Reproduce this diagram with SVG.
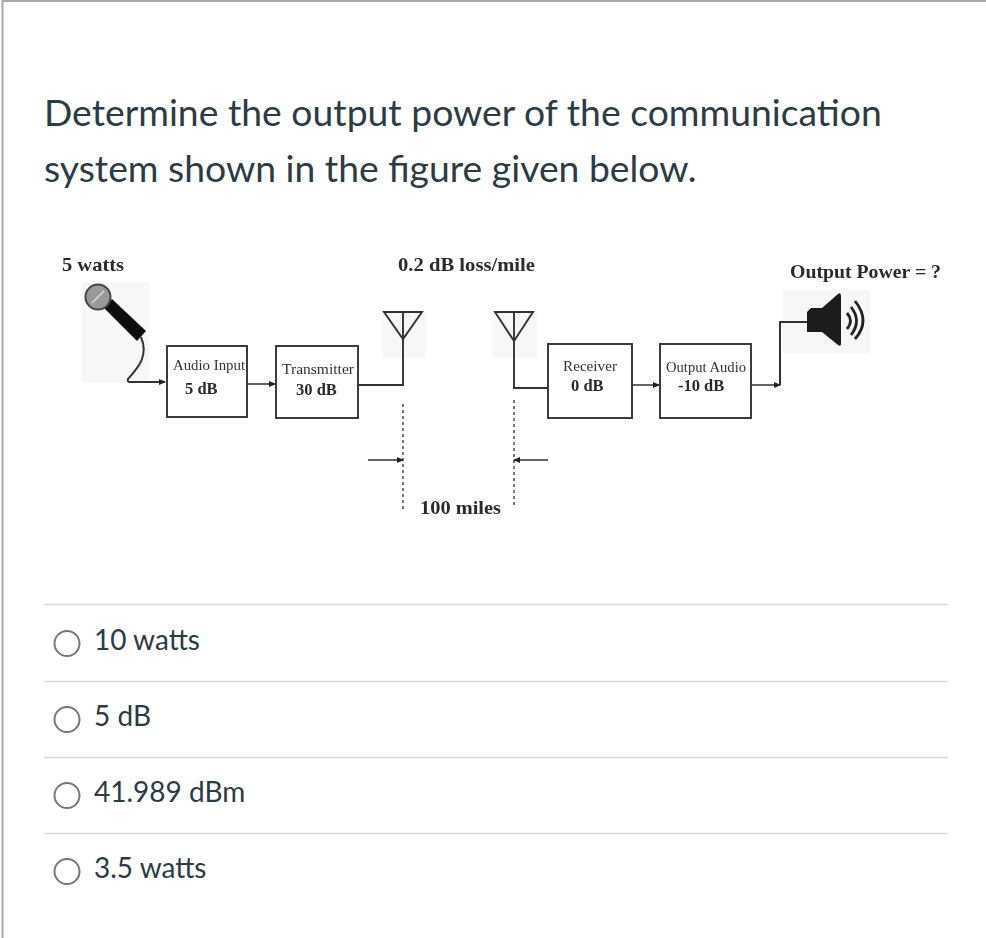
<svg xmlns="http://www.w3.org/2000/svg" width="986" height="938" viewBox="0 0 986 938">
<style>
.h{font:37.3px Lato,"Liberation Sans",sans-serif;fill:#2d3b45}
.o{font:28px Lato,"Liberation Sans",sans-serif;fill:#2d3b45}
.b{font:bold 19px "Liberation Serif",serif;fill:#2a2a2a}
.s{font:bold 16.5px "Liberation Serif",serif;fill:#2a2a2a}
.m{font:15px "Liberation Serif",serif;fill:#333}
.box{fill:#fff;stroke:#333;stroke-width:1.9}
.w{fill:none;stroke:#333;stroke-width:1.9}
.t{fill:none;stroke:#333;stroke-width:1.5}
.c{fill:none;stroke:#333;stroke-width:2}
.d{fill:none;stroke:#555;stroke-width:1.6;stroke-dasharray:3 3}
.bg{fill:#f7f7f7}
.r{fill:#fff;stroke:#777;stroke-width:2}
.l{stroke:#d9d9d9;stroke-width:1.5}
</style>
<defs>
<marker id="a" markerWidth="7" markerHeight="6" refX="6" refY="3" orient="auto" markerUnits="userSpaceOnUse"><path d="M0 0L7 3L0 6Z" fill="#222"/></marker>
<filter id="soft" x="-5%" y="-5%" width="110%" height="110%"><feGaussianBlur stdDeviation="0.7"/></filter>
</defs>
<rect width="986" height="938" fill="#fff"/>
<path d="M2.500 938V1H986" fill="none" stroke="#aaa" stroke-width="2"/>
<g id="question">
<text class="h" x="44" y="126">Determine the output power of the communication</text>
<text class="h" x="44" y="182">system shown in the figure given below.</text>
</g>
<g id="figure" filter="url(#soft)">
<rect class="bg" x="82" y="282" width="67" height="101"/>
<rect class="bg" x="783" y="290" width="87" height="63"/>
<rect class="bg" x="382" y="312" width="44" height="46"/>
<rect class="bg" x="492" y="312" width="45" height="46"/>
<g id="connectors">
<path class="c" d="M141 337C149 356 138 368 128 379Q127 382 130 382H165" marker-end="url(#a)"/>
<path class="t" d="M247 384H275" marker-end="url(#a)"/>
<path class="w" d="M358 385H403V339"/>
<path class="w" d="M548 388H514V341"/>
<path class="t" d="M632 385H659" marker-end="url(#a)"/>
<path class="t" d="M751 385H780" marker-end="url(#a)"/>
<path class="c" d="M780 385V322H808"/>
<path class="d" d="M403 404V509"/>
<path class="d" d="M514 400V506"/>
<path class="t" d="M368 460H403" marker-end="url(#a)"/>
<path class="t" d="M548 460H514" marker-end="url(#a)"/>
</g>
<g id="mic">
<path d="M104 308L112 299L146 331L137 341Z" fill="#111"/>
<circle cx="98" cy="297" r="12.500" fill="#999" stroke="#444" stroke-width="2"/>
<path d="M92 303L104 291" stroke="#ddd" stroke-width="1.500"/>
</g>
<g id="antenna-tx"><path class="w" d="M384 312H422L403 339Z"/><path class="w" d="M403 312V339"/></g>
<g id="antenna-rx"><path class="w" d="M495 312H533L514 341Z"/><path class="w" d="M514 312V341"/></g>
<g id="audio-input"><rect class="box" x="167" y="346" width="80" height="71"/><text class="m" x="173" y="370" textLength="72" lengthAdjust="spacingAndGlyphs">Audio Input</text><text class="s" x="185" y="394">5 dB</text></g>
<g id="transmitter"><rect class="box" x="276" y="346" width="82" height="72"/><text class="m" x="282" y="374" textLength="72" lengthAdjust="spacingAndGlyphs">Transmitter</text><text class="s" x="296" y="395">30 dB</text></g>
<g id="receiver"><rect class="box" x="548" y="344" width="84" height="74"/><text class="m" x="563" y="371" textLength="54" lengthAdjust="spacingAndGlyphs">Receiver</text><text class="s" x="571" y="391">0 dB</text></g>
<g id="output-audio"><rect class="box" x="660" y="344" width="91" height="74"/><text class="m" x="666" y="372" textLength="80" lengthAdjust="spacingAndGlyphs">Output Audio</text><text class="s" x="678" y="391">-10 dB</text></g>
<g id="speaker">
<path d="M811 308H822L838 294Q841 292 841 296V344Q841 347 838 345L822 332H807V312Z" fill="#1c1c1c"/>
<path d="M847 313Q854 321 847 329M851 307Q862 321 851 335M855 301Q871 321 855 339" fill="none" stroke="#222" stroke-width="2.800"/>
</g>
<text class="b" x="62" y="271" textLength="62" lengthAdjust="spacingAndGlyphs">5 watts</text>
<text class="b" x="398" y="271" textLength="137" lengthAdjust="spacingAndGlyphs">0.2 dB loss/mile</text>
<text class="b" x="790" y="278" textLength="151" lengthAdjust="spacingAndGlyphs">Output Power = ?</text>
<text class="b" x="420" y="514" textLength="81" lengthAdjust="spacingAndGlyphs">100 miles</text>
</g>
<g id="options">
<path class="l" d="M44 604.500H948M44 681.500H948M44 757.500H948M44 833.500H948"/>
<circle class="r" cx="67" cy="643.500" r="12.500"/><text class="o" x="94" y="650">10 watts</text>
<circle class="r" cx="67" cy="719.500" r="12.500"/><text class="o" x="94" y="726">5 dB</text>
<circle class="r" cx="67" cy="795.500" r="12.500"/><text class="o" x="94" y="802">41.989 dBm</text>
<circle class="r" cx="67" cy="871.500" r="12.500"/><text class="o" x="94" y="878">3.5 watts</text>
</g>
</svg>
